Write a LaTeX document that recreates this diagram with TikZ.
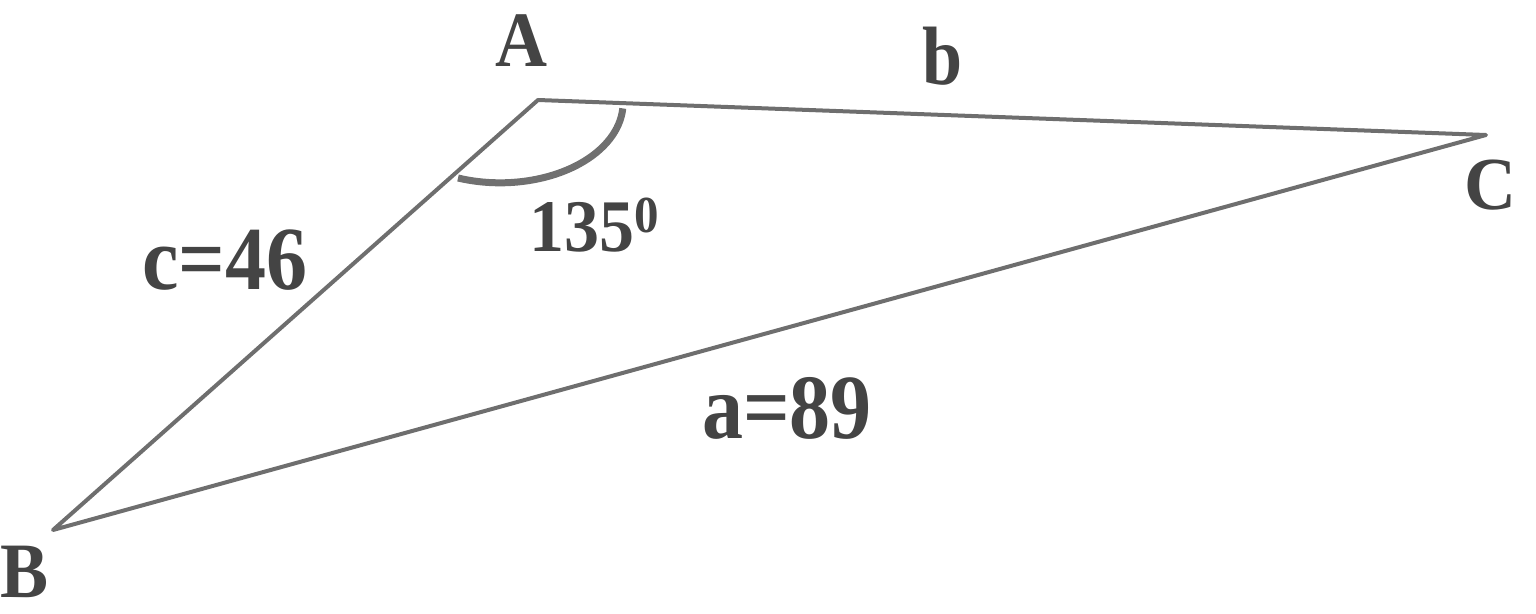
\documentclass[tikz,border=0pt]{standalone}
\usepackage{fontspec}
\setmainfont{Liberation Serif}
\definecolor{txtgray}{HTML}{444444}
\definecolor{linegray}{HTML}{6E6E6E}
\definecolor{arcgray}{HTML}{707070}
\newcommand{\vstr}[2]{\scalebox{1}[#1]{#2}}
\begin{document}
\begin{tikzpicture}[x=0.5pt,y=-0.5pt,
  side/.style={draw=linegray,line width=2pt,line join=round},
  anglearc/.style={draw=arcgray,line width=3.5pt},
  vlabel/.style={text=txtgray,font=\fontsize{36}{40}\selectfont\bfseries,inner sep=0pt,anchor=base},
  slabel/.style={text=txtgray,font=\fontsize{41}{46}\selectfont\bfseries,inner sep=0pt,anchor=base},
  alabel/.style={text=txtgray,font=\fontsize{35}{40}\selectfont\bfseries,inner sep=0pt,anchor=base}]
\useasboundingbox (0,0) rectangle (1536,614);
\coordinate (A) at (538,100);
\coordinate (B) at (53,530);
\coordinate (C) at (1486,135);
\draw[side] (A) -- (C) -- (B) -- cycle;
\coordinate (arcstart) at (458,178);
\draw[anglearc] (arcstart) arc[start angle=110, end angle=4, x radius=123, y radius=80];
\node[vlabel] (lA) at (521,67) {\vstr{1.09}{A}};
\node[vlabel] (lB) at (25,597) {\vstr{1.09}{B}};
\node[vlabel] (lC) at (1490,210) {\vstr{1.04}{C}};
\node[vlabel] (lb) at (943,85) {\vstr{1.15}{b}};
\node[slabel] (lc) at (225,290) {\vstr{1.1}{c=46}};
\node[slabel] (la) at (787,438) {\vstr{1.12}{a=89}};
\node[alabel] (lang) at (595,252) {\vstr{1.06}{135\textsuperscript{0}}};
\end{tikzpicture}
\end{document}
